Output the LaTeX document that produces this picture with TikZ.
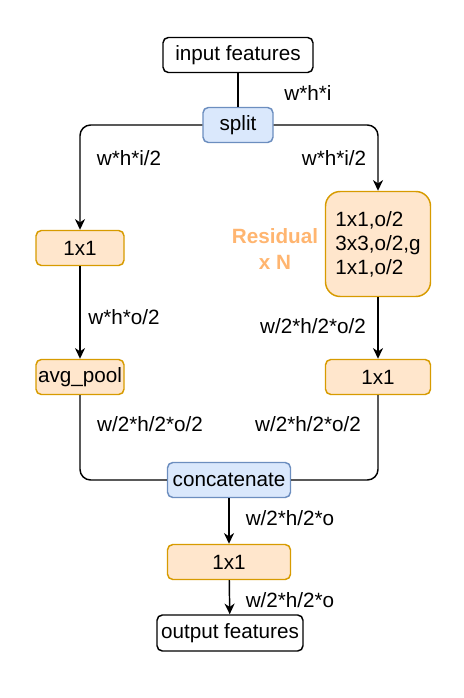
\documentclass[tikz,border=0pt]{standalone}
\usepackage{fontspec}
\setmainfont{Liberation Sans}
\usetikzlibrary{arrows.meta}

\definecolor{opfill}{HTML}{FFE6CC}
\definecolor{opline}{HTML}{D79B00}
\definecolor{ioblue}{HTML}{DAE8FC}
\definecolor{iobline}{HTML}{6C8EBF}
\definecolor{restext}{HTML}{FFB570}

\tikzset{
  box/.style={draw,rounded corners=4pt,line width=1.1pt,inner sep=1pt,
    minimum height=26.25pt,font=\fontsize{15.5}{18}\selectfont},
  opbox/.style={box,draw=opline,fill=opfill},
  splitbox/.style={box,draw=iobline,fill=ioblue},
  lbl/.style={font=\fontsize{15.5}{18}\selectfont,inner sep=0pt},
  wire/.style={line width=1.1pt,rounded corners=8pt},
  arr/.style={wire,-{Stealth[length=8pt,width=7.5pt,inset=2.5pt]}},
}

\begin{document}
\begin{tikzpicture}[x=0.75pt,y=-0.75pt]
\useasboundingbox (0,0) rectangle (463,698);
\node (in)    at (238,55)  [box,minimum width=112.5pt] {input features};
\node (split) at (238,125) [splitbox,minimum width=52.5pt] {split};
\node (l1)    at (80,248)  [opbox,minimum width=66pt] {1x1};
\node (pool)  at (80,377)  [opbox,minimum width=66pt] {avg\_pool};
\node (res)   at (378,244) [opbox,rounded corners=11pt,minimum width=78.75pt,
                            minimum height=78.75pt,align=left] {1x1,o/2\\3x3,o/2,g\\1x1,o/2};
\node (r1)    at (378,377) [opbox,minimum width=78.75pt] {1x1};
\node (cat)   at (229,480) [splitbox,minimum width=92.25pt] {concatenate};
\node (b1)    at (229,562) [opbox,minimum width=92.25pt] {1x1};
\node (out)   at (230,633) [box,minimum width=109.5pt,minimum height=27pt] {output features};

% texts on the wires
\node (t1) at (308,93)  [lbl] {w*h*i};
\node (t2) at (129,158) [lbl] {w*h*i/2};
\node (t3) at (334,158) [lbl] {w*h*i/2};
\node (t4) at (124,317) [lbl] {w*h*o/2};
\node (t5) at (313,326) [lbl] {w/2*h/2*o/2};
\node (t6) at (150,424) [lbl] {w/2*h/2*o/2};
\node (t7) at (308,424) [lbl] {w/2*h/2*o/2};
\node (t8) at (290,518) [lbl] {w/2*h/2*o};
\node (t9) at (290,600) [lbl] {w/2*h/2*o};
\node (rn) at (275,249) [lbl,text=restext,font=\fontsize{15.5}{19}\selectfont\bfseries,align=center] {Residual\\x N};

\draw[wire] (in) -- (split);
\draw[arr]  (split.west) -| (l1);
\draw[arr]  (split.east) -| (res);
\draw[arr]  (l1) -- (pool);
\draw[arr]  (res) -- (r1);
\draw[wire] (pool) |- (cat.west);
\draw[wire] (r1) |- (cat.east);
\draw[arr]  (cat) -- (b1);
\draw[arr]  (b1) -- (out);
\end{tikzpicture}
\end{document}
